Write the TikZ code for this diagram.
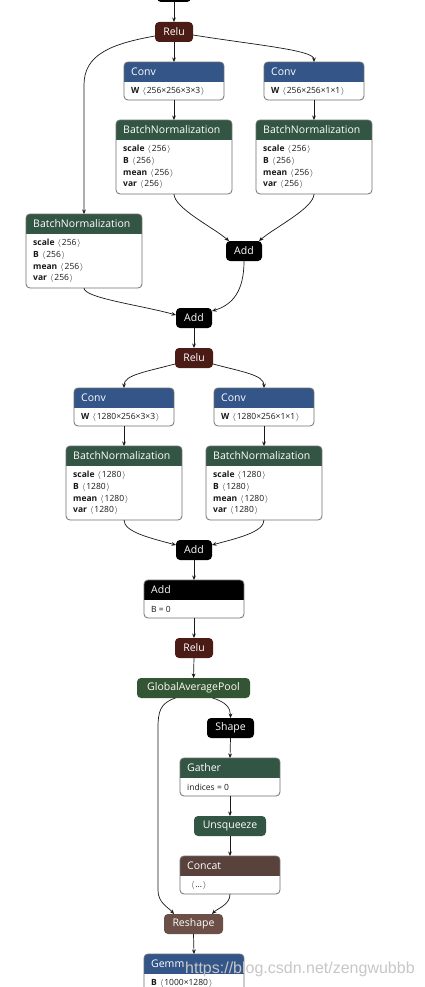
\documentclass[tikz,border=0pt]{standalone}
\usepackage{fontspec}
\setmainfont{Open Sans}
\newfontfamily\wmfont{Liberation Sans}
\usetikzlibrary{arrows.meta,calc}
\definecolor{cact}{RGB}{75,27,22}
\definecolor{clayer}{RGB}{51,85,136}
\definecolor{cnorm}{RGB}{51,85,68}
\definecolor{cpool}{RGB}{51,85,51}
\definecolor{ctensor}{RGB}{89,66,59}
\definecolor{cshape}{RGB}{108,79,71}
\definecolor{cborder}{RGB}{112,112,112}
\tikzset{
 simple/.style={rectangle, rounded corners=4pt, minimum height=20pt, inner sep=0pt, outer sep=0pt, text=white, font=\fontsize{10.5}{12}\selectfont},
 outerbox/.style={rectangle, rounded corners=4pt, inner sep=0pt, outer sep=0pt, fill=white},
 ttl/.style={anchor=west, inner sep=0pt, text=white, font=\fontsize{10.5}{12}\selectfont},
 attr/.style={anchor=west, inner sep=0pt, text=black!90, font=\fontsize{8.5}{9}\selectfont},
 edge/.style={draw=black!90, line width=0.7pt, -{Stealth[length=4.5pt,width=3.8pt]}},
}
\newcommand\snode[6]{\node[simple, fill=#5, minimum width=#4pt] (#1) at (#2,#3) {#6};}
\newcommand\cnode[7]{%
 \node[outerbox, minimum width=#4pt, minimum height=#5pt, anchor=north west] (#1) at (#2,#3) {};
 \begin{scope}
 \clip[rounded corners=4pt] (#1.north west) rectangle (#1.south east);
 \fill[#6] (#1.north west) rectangle ($(#1.north east)+(0,20)$);
 \end{scope}
 \draw[cborder, line width=0.8pt, rounded corners=4pt] (#1.north west) rectangle (#1.south east);
 \node[ttl] at ($(#1.north west)+(7,10)$) {#7};
}
\newcommand\ang[1]{$\mkern2mu\langle\mkern2mu$#1$\mkern2mu\rangle$}
\begin{document}
\begin{tikzpicture}[x=1pt,y=-1pt]
\fill[white] (0,0) rectangle (424,987);
\useasboundingbox (0,0) rectangle (424,987);
% nodes
\snode{top}{174}{-8}{34}{black}{}
\snode{relu1}{174}{32}{38}{cact}{Relu}
\cnode{conv1}{124}{62}{100}{38}{clayer}{Conv}
\node[attr] at ($(conv1.north west)+(7,29)$) {\textbf{W} \ang{256×256×3×3}};
\cnode{conv2}{264}{62}{100}{38}{clayer}{Conv}
\node[attr] at ($(conv2.north west)+(7,29)$) {\textbf{W} \ang{256×256×1×1}};
\cnode{bn1}{116}{120}{116}{74}{cnorm}{BatchNormalization}
\cnode{bn2}{256}{120}{116}{74}{cnorm}{BatchNormalization}
\cnode{bn3}{26}{214}{116}{74}{cnorm}{BatchNormalization}
\foreach \n in {bn1,bn2,bn3}{
 \node[attr] at ($(\n.north west)+(7,29)$) {\textbf{scale} \ang{256}};
 \node[attr] at ($(\n.north west)+(7,41)$) {\textbf{B} \ang{256}};
 \node[attr] at ($(\n.north west)+(7,53)$) {\textbf{mean} \ang{256}};
 \node[attr] at ($(\n.north west)+(7,64)$) {\textbf{var} \ang{256}};
}
\snode{add1}{244}{251}{36}{black}{Add}
\snode{add2}{194}{318}{36}{black}{Add}
\snode{relu2}{194}{358}{38}{cact}{Relu}
\cnode{conv3}{74}{388}{100}{38}{clayer}{Conv}
\node[attr] at ($(conv3.north west)+(7,29)$) {\textbf{W} \ang{1280×256×3×3}};
\cnode{conv4}{214}{388}{100}{38}{clayer}{Conv}
\node[attr] at ($(conv4.north west)+(7,29)$) {\textbf{W} \ang{1280×256×1×1}};
\cnode{bn4}{66}{446}{116}{74}{cnorm}{BatchNormalization}
\cnode{bn5}{206}{446}{116}{74}{cnorm}{BatchNormalization}
\foreach \n in {bn4,bn5}{
 \node[attr] at ($(\n.north west)+(7,29)$) {\textbf{scale} \ang{1280}};
 \node[attr] at ($(\n.north west)+(7,41)$) {\textbf{B} \ang{1280}};
 \node[attr] at ($(\n.north west)+(7,53)$) {\textbf{mean} \ang{1280}};
 \node[attr] at ($(\n.north west)+(7,64)$) {\textbf{var} \ang{1280}};
}
\snode{add3}{194}{550}{36}{black}{Add}
\cnode{add4}{144}{580}{100}{38}{black}{Add}
\node[attr] at ($(add4.north west)+(7,29)$) {B = 0};
\snode{relu3}{194}{648}{38}{cact}{Relu}
\snode{gap}{193.5}{688}{113}{cpool}{GlobalAveragePool}
\snode{shape}{230.5}{728}{47}{black}{Shape}
\cnode{gather}{180}{758}{100}{38}{cnorm}{Gather}
\node[attr] at ($(gather.north west)+(7,29)$) {indices = 0};
\snode{unsq}{230}{826}{72}{cnorm}{Unsqueeze}
\cnode{concat}{180}{856}{100}{38}{ctensor}{Concat}
\node[attr] at ($(concat.north west)+(10,29)$) {\ang{...}};
\snode{reshape}{193.5}{924}{59}{cshape}{Reshape}
\cnode{gemm}{144}{954}{100}{38}{clayer}{Gemm}
\node[attr] at ($(gemm.north west)+(7,29)$) {\textbf{B} \ang{1000×1280}};
% edges
\draw[edge] (top.south) -- (relu1.north);
\draw[edge] (relu1.south) -- (conv1.north);
\draw[edge] ($(relu1.east)+(0,3)$) .. controls (255,45) and (314,50) .. (conv2.north);
\draw[edge] ($(relu1.west)+(0,4)$) .. controls (110,44) and (84,55) .. (84,85) -- (bn3.north);
\draw[edge] (conv1.south) -- (bn1.north);
\draw[edge] (conv2.south) -- (bn2.north);
\draw[edge] (bn1.south) .. controls (174,208) and (214,228) .. ($(add1.north west)+(3,0)$);
\draw[edge] (bn2.south) .. controls (314,208) and (274,228) .. ($(add1.north east)+(-3,0)$);
\draw[edge] (bn3.south) .. controls (84,298) and (140,305) .. ($(add2.west)+(0,-3)$);
\draw[edge] (add1.south) .. controls (244,292) and (232,305) .. ($(add2.east)+(0,-7)$);
\draw[edge] (add2.south) -- (relu2.north);
\draw[edge] ($(relu2.west)+(0,6)$) .. controls (145,372) and (124,375) .. (conv3.north);
\draw[edge] ($(relu2.east)+(0,6)$) .. controls (243,372) and (264,375) .. (conv4.north);
\draw[edge] (conv3.south) -- (bn4.north);
\draw[edge] (conv4.south) -- (bn5.north);
\draw[edge] (bn4.south) .. controls (124,532) and (150,538) .. ($(add3.west)+(0,-5)$);
\draw[edge] (bn5.south) .. controls (264,532) and (238,538) .. ($(add3.east)+(0,-5)$);
\draw[edge] (add3.south) -- (add4.north);
\draw[edge] (add4.south) -- (relu3.north);
\draw[edge] (relu3.south) -- (gap.north);
\draw[edge] ($(gap.south)+(19,0)$) .. controls (226,702) and (230.5,708) .. (shape.north);
\draw[edge] ($(gap.south)+(-18,0)$) .. controls (160,703) and (158,712) .. (158,728) -- (158,890) .. controls (158,903) and (168,907) .. ($(reshape.north west)+(10,0)$);
\draw[edge] (shape.south) -- (gather.north);
\draw[edge] (gather.south) -- (unsq.north);
\draw[edge] (unsq.south) -- (concat.north);
\draw[edge] (concat.south) .. controls (230,905) and (218,908) .. ($(reshape.north east)+(-11,0)$);
\draw[edge] (reshape.south) -- (gemm.north);
% watermark
\node[anchor=base west, inner sep=0pt, font=\wmfont\fontsize{16}{16}\selectfont, text=black!22] (wm) at (185,973) {https://blog.csdn.net/zengwubbb};
\end{tikzpicture}
\end{document}
